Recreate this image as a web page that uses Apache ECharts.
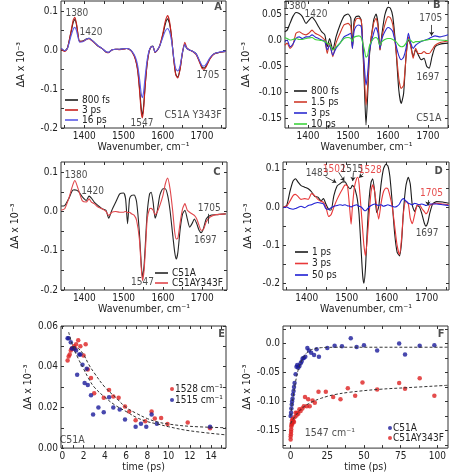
<!DOCTYPE html>
<html>
<head>
<meta charset="utf-8">
<script src="https://cdn.jsdelivr.net/npm/echarts@6/dist/echarts.min.js"></script>
<style>
  html, body {margin: 0; padding: 0; background: #fff;}
  #chart {width: 474px; height: 474px;}
</style>
</head>
<body>
<div id="chart"></div>
<script>
// ---- panel A: C51A Y343F, three delays ----
const wnA = [1341,1350,1357,1365,1372,1376,1380,1388,1396,1405,
             1412,1418,1425,1435,1445,1455,1462,1470,1480,1490,
             1500,1508,1515,1522,1530,1536,1541,1545,1548,1551,
             1555,1560,1565,1570,1575,1580,1585,1592,1600,1606,
             1612,1617,1622,1628,1633,1638,1644,1650,1656,1661,
             1668,1676,1685,1693,1700,1706,1712,1720,1730,1745,
             1760]
const a800fs = [0.004,-0.002,0.005,0.040,0.072,0.078,0.065,0.022,0.023,0.028,
                0.030,0.026,0.020,0.010,0.004,-0.005,-0.006,0.000,0.002,0.002,
                0.003,0.004,0.002,-0.005,-0.022,-0.050,-0.100,-0.150,-0.166,-0.145,
                -0.090,-0.035,-0.004,0.008,0.010,-0.006,-0.002,0.010,0.038,0.065,
                0.080,0.068,0.035,-0.025,-0.062,-0.070,-0.048,-0.008,0.014,0.004,
                0.000,-0.003,-0.010,-0.028,-0.044,-0.046,-0.038,-0.022,-0.010,-0.006,
                -0.004]
const a3ps = [0.002,-0.004,0.004,0.042,0.078,0.084,0.068,0.022,0.022,0.027,
              0.029,0.025,0.019,0.010,0.004,-0.005,-0.007,0.000,0.002,0.001,
              0.002,0.004,0.001,-0.006,-0.024,-0.054,-0.108,-0.160,-0.174,-0.152,
              -0.094,-0.036,-0.004,0.008,0.009,-0.006,-0.002,0.011,0.042,0.072,
              0.088,0.074,0.036,-0.026,-0.064,-0.072,-0.050,-0.006,0.020,0.006,
              0.000,-0.004,-0.012,-0.030,-0.047,-0.049,-0.040,-0.023,-0.011,-0.006,
              -0.004]
const a16ps = [0.004,-0.002,0.004,0.032,0.054,0.058,0.050,0.020,0.021,0.027,
               0.030,0.026,0.020,0.011,0.004,-0.004,-0.006,0.000,0.002,0.002,
               0.003,0.004,0.002,-0.004,-0.018,-0.040,-0.076,-0.112,-0.122,-0.108,
               -0.068,-0.026,-0.002,0.008,0.009,-0.005,-0.001,0.010,0.032,0.048,
               0.055,0.047,0.025,-0.020,-0.048,-0.054,-0.040,-0.006,0.014,0.004,
               0.000,-0.003,-0.010,-0.026,-0.040,-0.041,-0.034,-0.020,-0.010,-0.005,
               -0.003]

// ---- panel B: C51A, four delays ----
const wnB = [1342,1348,1355,1362,1370,1378,1386,1395,1402,1410,
             1418,1426,1434,1442,1448,1454,1462,1470,1480,1490,
             1500,1507,1511,1515,1520,1527,1533,1536,1541,1545,
             1549,1554,1564,1570,1575,1580,1585,1592,1600,1606,
             1612,1620,1627,1633,1639,1645,1651,1657,1663,1669,
             1676,1683,1690,1697,1703,1710,1718,1730,1750]
const b800fs = [0.016,0.019,0.032,0.045,0.053,0.051,0.045,0.032,0.038,0.044,
                0.037,0.026,0.016,0.010,-0.013,0.003,-0.019,0.006,0.029,0.046,
                0.050,0.042,-0.013,0.035,0.045,0.046,0.038,0.006,-0.090,-0.163,
                -0.109,-0.026,0.038,0.050,0.032,-0.019,0.013,0.048,0.063,0.061,
                0.045,-0.019,-0.096,-0.122,-0.103,-0.032,0.000,-0.010,-0.032,-0.019,
                -0.029,-0.038,-0.035,-0.051,-0.054,-0.032,-0.013,-0.008,-0.006]
const b1p5ps = [-0.010,-0.006,-0.016,-0.010,0.013,0.016,0.012,0.010,0.013,0.019,
                0.013,0.010,0.006,0.000,-0.026,-0.006,-0.032,-0.006,0.013,0.029,
                0.032,0.026,-0.016,0.026,0.040,0.042,0.038,0.006,-0.070,-0.125,
                -0.090,-0.020,0.032,0.042,0.026,-0.019,0.006,0.029,0.045,0.043,
                0.029,-0.019,-0.074,-0.093,-0.087,-0.035,0.006,-0.013,-0.035,-0.016,
                -0.026,-0.026,-0.022,-0.026,-0.026,-0.019,-0.010,-0.005,-0.002]
const b3ps = [-0.003,0.000,-0.013,-0.008,0.003,0.006,0.003,0.006,0.006,0.010,
              0.006,0.003,0.000,-0.003,-0.019,-0.010,-0.029,-0.016,-0.006,0.006,
              0.010,0.013,-0.016,0.016,0.026,0.029,0.026,0.000,-0.051,-0.087,
              -0.065,-0.020,0.013,0.024,0.013,-0.016,0.003,0.016,0.024,0.022,
              0.016,-0.010,-0.030,-0.038,-0.033,-0.016,0.013,-0.006,-0.016,-0.010,
              -0.006,-0.003,-0.001,0.001,0.003,0.006,0.008,0.006,0.010]
const b10ps = [0.005,0.003,0.000,0.001,0.003,0.001,0.001,0.003,0.004,0.005,
               0.001,0.000,-0.001,-0.003,-0.006,-0.008,-0.019,-0.013,-0.006,0.003,
               0.005,0.003,-0.003,0.005,0.007,0.008,0.005,-0.003,-0.019,-0.033,
               -0.030,-0.010,0.003,0.005,0.001,-0.010,-0.003,0.001,0.003,0.003,
               0.001,-0.003,-0.010,-0.013,-0.012,-0.006,0.001,-0.001,-0.005,-0.003,
               -0.003,-0.002,-0.001,0.000,0.001,0.001,0.001,0.000,-0.001]

// ---- panel C: C51A vs C51AY343F ----
const wnC = [1341,1350,1360,1370,1376,1385,1395,1405,1412,1418,
             1425,1435,1445,1455,1462,1470,1480,1490,1500,1505,
             1510,1515,1520,1527,1533,1540,1545,1548,1552,1556,
             1560,1566,1570,1575,1580,1585,1592,1600,1606,1612,
             1618,1625,1630,1634,1638,1644,1650,1656,1662,1668,
             1674,1680,1686,1692,1697,1703,1710,1720,1735,1760]
const cC51A = [0.014,0.015,0.032,0.054,0.055,0.051,0.037,0.028,0.039,0.034,
               0.024,0.015,0.007,0.003,-0.017,0.003,0.024,0.045,0.047,0.032,
               -0.031,0.032,0.041,0.042,0.024,-0.053,-0.138,-0.167,-0.138,-0.070,
               -0.002,0.045,0.049,0.024,-0.017,-0.002,0.041,0.058,0.058,0.041,
               0.003,-0.061,-0.104,-0.121,-0.104,-0.044,-0.006,0.003,-0.019,-0.040,
               -0.031,-0.019,-0.031,-0.048,-0.054,-0.044,-0.019,-0.010,-0.008,-0.006]
const cY343F = [0.003,0.007,0.032,0.066,0.079,0.055,0.027,0.024,0.032,0.024,
                0.020,0.011,0.007,0.000,-0.010,-0.002,0.000,-0.002,-0.002,0.000,
                -0.003,-0.002,-0.006,-0.010,-0.023,-0.070,-0.146,-0.176,-0.150,-0.087,
                -0.019,0.007,0.008,0.003,-0.008,-0.002,0.015,0.041,0.070,0.085,
                0.058,0.000,-0.053,-0.070,-0.068,-0.027,0.007,0.020,0.003,-0.002,
                -0.006,-0.010,-0.019,-0.036,-0.048,-0.046,-0.027,-0.014,-0.008,-0.006]

// ---- panel D: three delays ----
const wnD = [1342,1350,1358,1366,1372,1378,1386,1395,1404,1412,
             1420,1428,1436,1442,1448,1455,1461,1468,1476,1483,
             1490,1496,1502,1508,1511,1514,1519,1525,1528,1531,
             1536,1540,1543,1547,1551,1556,1561,1565,1570,1575,
             1580,1586,1592,1598,1603,1608,1614,1620,1626,1632,
             1637,1642,1648,1654,1659,1664,1670,1676,1682,1688,
             1694,1698,1703,1708,1715,1725,1740,1755]
const d1ps = [0.000,0.004,0.040,0.068,0.074,0.066,0.056,0.052,0.048,0.040,
              0.028,0.026,0.016,0.022,0.008,-0.006,-0.008,0.030,0.055,0.061,
              0.066,0.066,0.055,0.048,0.050,0.057,0.052,0.030,0.010,-0.020,
              -0.110,-0.180,-0.200,-0.160,-0.070,0.020,0.065,0.074,0.040,-0.015,
              0.000,0.060,0.100,0.112,0.108,0.080,0.010,-0.070,-0.118,-0.128,
              -0.095,-0.010,0.055,0.078,0.060,0.005,-0.012,0.004,0.000,-0.018,
              -0.042,-0.050,-0.040,-0.015,0.008,0.014,0.013,0.010]
const d3ps = [0.000,0.002,0.015,0.030,0.033,0.028,0.020,0.022,0.020,0.035,
              0.030,0.020,0.015,0.012,0.000,-0.025,-0.020,0.000,0.020,0.035,
              0.048,0.058,0.055,-0.010,-0.045,-0.005,0.050,0.075,0.078,0.060,
              -0.005,-0.060,-0.100,-0.128,-0.090,-0.020,0.040,0.058,0.040,0.000,
              -0.032,0.010,0.040,0.050,0.048,0.030,0.000,-0.050,-0.100,-0.125,
              -0.085,-0.015,0.015,0.008,-0.030,-0.044,-0.020,0.004,0.006,-0.004,
              -0.012,-0.018,-0.012,0.004,0.008,0.010,0.008,0.006]
const d50ps = [-0.002,0.000,-0.004,-0.006,-0.004,-0.001,0.002,-0.002,0.004,0.006,
               0.010,0.012,0.010,0.008,-0.004,-0.006,-0.002,0.002,0.004,0.006,
               0.004,0.006,0.003,0.002,0.000,0.002,0.004,0.006,0.004,0.002,
               0.000,-0.004,-0.008,-0.010,-0.006,0.000,0.004,0.006,0.008,0.006,
               0.004,0.006,0.002,0.004,0.006,0.004,0.002,0.000,0.002,0.008,
               0.018,0.022,0.016,0.010,0.008,0.006,0.010,0.008,0.006,0.008,
               0.006,0.004,0.006,0.008,0.008,0.008,0.006,0.004]

// ---- panel E: kinetics of C51A at 1528 / 1515 ----
const e1528T = [0.5,0.6,0.7,0.8,0.9,1.0,1.1,1.2,1.3,1.5,
                1.7,2.0,2.2,2.4,2.7,3.0,3.9,4.4,4.8,5.3,
                5.9,6.3,6.9,7.8,8.4,8.7,9.3,9.9,11.8,13.9]
const e1528V = [0.043,0.045,0.046,0.048,0.049,0.049,0.050,0.049,0.051,0.053,
                0.050,0.0455,0.051,0.0386,0.0345,0.027,0.0247,0.0286,0.0254,0.0247,
                0.0204,0.018,0.0137,0.0132,0.018,0.0145,0.0148,0.0118,0.0126,0.0097]
const e1515T = [0.5,0.6,0.8,0.9,1.1,1.3,1.4,1.6,1.7,1.9,
                2.1,2.3,2.4,2.7,2.9,3.4,3.9,4.4,4.8,5.4,
                5.9,6.9,7.4,7.9,8.4,8.9,13.9]
const e1515V = [0.054,0.054,0.052,0.049,0.049,0.048,0.036,0.046,0.046,0.041,
                0.032,0.039,0.031,0.026,0.0165,0.020,0.0176,0.025,0.020,0.019,
                0.014,0.0105,0.012,0.0105,0.0165,0.012,0.0105]
const eFit1528T = [1.0,1.5,2,2.5,3,4,5,6,7,8,9,10,12,15.4]
const eFit1528V = [0.050,0.049,0.046,0.041,0.037,0.030,0.025,0.020,0.017,0.0145,0.0128,0.0118,0.0107,0.0100]
const eFit1515T = [0.6,1,1.5,2,2.5,3,4,5,6,7,8,9,10,12,15.4]
const eFit1515V = [0.057,0.050,0.044,0.039,0.034,0.030,0.025,0.021,0.018,0.015,0.013,0.0118,0.0105,0.0085,0.0065]

// ---- panel F: kinetics at 1547 ----
const fC51AT = [0,0.3,0.5,0.8,1,1.3,1.6,2,2.3,2.7,
                3.4,4,4.5,5.2,6,6.8,7.5,8.2,9,10,
                11.4,12.5,14,16,17.7,19.3,25,30,35,41,
                45,50,59,74,78,88,98]
const fC51AV = [-0.125,-0.119,-0.112,-0.105,-0.100,-0.095,-0.088,-0.082,-0.075,-0.068,
                -0.053,-0.040,-0.037,-0.042,-0.039,-0.034,-0.031,-0.026,-0.025,-0.023,
                -0.008,-0.012,-0.016,-0.020,-0.010,-0.023,-0.008,-0.004,-0.005,0.009,
                -0.006,-0.003,-0.012,0.000,-0.019,-0.004,-0.003]
const fY343FT = [0,0,0.2,0.3,0.4,0.5,0.6,0.8,1,1.2,
                 1.5,1.8,2.3,2.7,3.4,4,4.5,5.2,6,6.8,
                 8,9,9.8,11,12,13,15,16.5,19,24,
                 29,34,39,44,49,59,74,78,88,98]
const fY343FV = [-0.165,-0.160,-0.156,-0.152,-0.148,-0.143,-0.140,-0.137,-0.132,-0.138,
                 -0.130,-0.134,-0.135,-0.127,-0.119,-0.124,-0.119,-0.121,-0.113,-0.116,
                 -0.112,-0.108,-0.092,-0.108,-0.096,-0.108,-0.098,-0.102,-0.083,-0.083,
                 -0.092,-0.096,-0.077,-0.090,-0.067,-0.079,-0.068,-0.078,-0.060,-0.090]
const fFitT = [0,1,2,3,4,5,6,8,10,12,15,20,25,30,40,60,80,107]
const fFitC51AV = [-0.125,-0.105,-0.087,-0.071,-0.058,-0.047,-0.039,-0.027,-0.019,-0.014,-0.010,-0.0075,-0.0068,-0.0066,-0.0065,-0.0065,-0.0065,-0.0065]
const fFitY343FV = [-0.138,-0.133,-0.129,-0.125,-0.122,-0.119,-0.116,-0.111,-0.107,-0.104,-0.100,-0.095,-0.091,-0.088,-0.084,-0.079,-0.076,-0.072]

// ---- tick marks and labels ----
const wnTicks = [1350,1400,1450,1500,1550,1600,1650,1700,1750]
const wnLabelAt = [1400,1500,1600,1700]
const wnLabels = ['1400','1500','1600','1700']
const yTicksAC = [-0.2,-0.15,-0.1,-0.05,0,0.05,0.1]
const yLabelAtAC = [-0.2,-0.1,0,0.1]
const yLabelsAC = ['-0.2','-0.1','0.0','0.1']
const yTicksB = [-0.15,-0.125,-0.1,-0.075,-0.05,-0.025,0,0.025,0.05,0.075]
const yLabelAtB = [-0.15,-0.1,-0.05,0,0.05]
const yLabelsB = ['-0.15','-0.10','-0.05','0.0','0.05']
const yTicksD = [-0.2,-0.15,-0.1,-0.05,0,0.05,0.1]
const tTicksE = [0,1,2,3,4,5,6,7,8,9,10,11,12,13,14,15]
const tLabelAtE = [0,2,4,6,8,10,12,14]
const tLabelsE = ['0','2','4','6','8','10','12','14']
const yTicksE = [0,0.01,0.02,0.03,0.04,0.05,0.06]
const yLabelAtE = [0,0.02,0.04,0.06]
const yLabelsE = ['0.00','0.02','0.04','0.06']
const tTicksF = [0,12.5,25,37.5,50,62.5,75,87.5,100]
const tLabelAtF = [0,25,50,75,100]
const tLabelsF = ['0','25','50','75','100']
const yTicksF = [-0.175,-0.15,-0.125,-0.1,-0.075,-0.05,-0.025,0,0.025]
const yLabelAtF = [-0.15,-0.1,-0.05,0]
const yLabelsF = ['-0.15','-0.10','-0.05','0.0']

const FONT = '"Liberation Sans Narrow", "DejaVu Sans Condensed", "Liberation Sans", Arial, sans-serif'
const INK = '#222'
const YNAME = 'ΔA x 10⁻³'
const XNAME = 'Wavenumber, cm⁻¹'

// panel frames in px
const grids = [
  {left: 61, top: 1, width: 165, height: 127},
  {left: 285, top: 1, width: 163, height: 127},
  {left: 61, top: 162, width: 166, height: 128},
  {left: 283, top: 162, width: 166, height: 128},
  {left: 61, top: 326, width: 165, height: 128},
  {left: 283, top: 326, width: 165, height: 128},
].map(g => ({...g, show: true, borderColor: '#333', borderWidth: 1, backgroundColor: 'transparent'}))

const zip = (xs, ys) => xs.map((x, i) => [x, ys[i]])

const pick = (at, labels) => v => {
  const i = at.findIndex(t => Math.abs(t - v) < 1e-9)
  return i < 0 ? '' : labels[i]
}

// bottom/left axis with labels + top/right twin with ticks only
function axisPair(dim, g, o) {
  const base = {
    type: 'value', gridIndex: g, min: o.min, max: o.max,
    splitLine: {show: false},
    axisLine: {show: false, onZero: false},
    axisTick: {show: true, inside: true, length: 3, customValues: o.ticks, lineStyle: {color: '#333'}},
  }
  const main = {...base,
    position: dim == 'x' ? 'bottom' : 'left',
    axisLabel: {customValues: o.at, formatter: pick(o.at, o.labels), color: INK, fontFamily: FONT, fontSize: 10, margin: 3},
    name: o.name, nameLocation: 'middle', nameGap: o.gap, nameRotate: dim == 'y' ? 90 : 0,
    nameTextStyle: {color: INK, fontFamily: FONT, fontSize: 10.5},
  }
  const twin = {...base, position: dim == 'x' ? 'top' : 'right', axisLabel: {show: false}}
  return [main, twin]
}

const xAxes = [
  axisPair('x', 0, {min: 1340.6, max: 1761, ticks: wnTicks, at: wnLabelAt, labels: wnLabels, name: XNAME, gap: 12}),
  axisPair('x', 1, {min: 1342.5, max: 1750, ticks: wnTicks, at: wnLabelAt, labels: wnLabels, name: XNAME, gap: 12}),
  axisPair('x', 2, {min: 1340.6, max: 1763, ticks: wnTicks, at: wnLabelAt, labels: wnLabels, name: XNAME, gap: 12}),
  axisPair('x', 3, {min: 1340.8, max: 1755.8, ticks: wnTicks, at: wnLabelAt, labels: wnLabels, name: XNAME, gap: 12}),
  axisPair('x', 4, {min: -0.12, max: 15.4, ticks: tTicksE, at: tLabelAtE, labels: tLabelsE, name: 'time (ps)', gap: 9}),
  axisPair('x', 5, {min: -5.2, max: 107.3, ticks: tTicksF, at: tLabelAtF, labels: tLabelsF, name: 'time (ps)', gap: 9}),
].flat()

const yAxes = [
  axisPair('y', 0, {min: -0.2, max: 0.1256, ticks: yTicksAC, at: yLabelAtAC, labels: yLabelsAC, name: YNAME, gap: 34}),
  axisPair('y', 1, {min: -0.169, max: 0.075, ticks: yTicksB, at: yLabelAtB, labels: yLabelsB, name: YNAME, gap: 33}),
  axisPair('y', 2, {min: -0.2, max: 0.126, ticks: yTicksAC, at: yLabelAtAC, labels: yLabelsAC, name: YNAME, gap: 40}),
  axisPair('y', 3, {min: -0.2176, max: 0.118, ticks: yTicksD, at: yLabelAtAC, labels: yLabelsAC, name: YNAME, gap: 29}),
  axisPair('y', 4, {min: 0, max: 0.06, ticks: yTicksE, at: yLabelAtE, labels: yLabelsE, name: YNAME, gap: 27}),
  axisPair('y', 5, {min: -0.18, max: 0.03, ticks: yTicksF, at: yLabelAtF, labels: yLabelsF, name: YNAME, gap: 26}),
].flat()

function spectrum(g, key, label, xs, ys, color) {
  return {
    type: 'line', name: key + '|' + label, xAxisIndex: 2 * g, yAxisIndex: 2 * g,
    data: zip(xs, ys), symbol: 'none', showSymbol: false, smooth: 0.2,
    lineStyle: {color: color, width: 1.1}, itemStyle: {color: color},
  }
}

function dots(g, key, label, ts, vs, color) {
  return {
    type: 'scatter', name: key + '|' + label, xAxisIndex: 2 * g, yAxisIndex: 2 * g,
    data: zip(ts, vs), symbol: 'circle', symbolSize: 4.5, itemStyle: {color: color}, z: 3,
  }
}

function fit(g, ts, vs) {
  return {
    type: 'line', xAxisIndex: 2 * g, yAxisIndex: 2 * g, data: zip(ts, vs),
    symbol: 'none', smooth: 0.4, silent: true, z: 4,
    lineStyle: {color: '#333', width: 1, type: [3, 2]},
  }
}

// text labels (in data coords) and little arrows for one panel
function notes(g, items, arrows) {
  return {
    type: 'scatter', xAxisIndex: 2 * g, yAxisIndex: 2 * g, silent: true, z: 10,
    symbol: 'circle', symbolSize: 1, itemStyle: {color: 'rgba(0,0,0,0)'},
    data: items.map(n => ({
      value: [n[0], n[1]],
      label: {show: true, position: 'inside', formatter: n[2], color: n[3] || INK,
              fontFamily: FONT, fontSize: n[4] || 10, fontWeight: n[5] || 'normal'},
    })),
    markLine: arrows ? {
      silent: true, symbol: ['none', 'arrow'], symbolSize: 4, animation: false,
      label: {show: false}, lineStyle: {color: INK, width: 0.8, type: 'solid'},
      data: arrows.map(a => [{coord: [a[0], a[1]], symbol: 'none'}, {coord: [a[2], a[3]], symbol: a[4] === false ? 'none' : 'arrow'}]),
    } : undefined,
  }
}

function legendBox(names, left, top, o) {
  return Object.assign({
    data: names, orient: 'vertical', left: left, top: top, padding: 0,
    itemGap: 0, itemWidth: 13, itemHeight: 1.6, icon: 'rect', selectedMode: false,
    formatter: n => n.split('|')[1],
    textStyle: {color: INK, fontFamily: FONT, fontSize: 10, lineHeight: 8.5, padding: [0, 0, 0, -1]},
  }, o || {})
}

const dotLegend = {icon: 'circle', itemWidth: 4, itemHeight: 4}

const series = [
  spectrum(0, 'A', '800 fs', wnA, a800fs, '#1c1c1c'),
  spectrum(0, 'A', '3 ps', wnA, a3ps, '#c8201e'),
  spectrum(0, 'A', '16 ps', wnA, a16ps, '#5a5ae6'),
  notes(0, [[1381, 0.095, '1380'], [1417, 0.044, '1420'], [1547, -0.187, '1547'], [1715, -0.064, '1705'],
            [1741, 0.110, 'A', INK, 11, 'bold'], [1677, -0.167, 'C51A Y343F', INK, 10.5]]),

  spectrum(1, 'B', '800 fs', wnB, b800fs, '#1c1c1c'),
  spectrum(1, 'B', '1.5 ps', wnB, b1p5ps, '#d03a2a'),
  spectrum(1, 'B', '3 ps', wnB, b3ps, '#2b2bd0'),
  spectrum(1, 'B', '10 ps', wnB, b10ps, '#3ed23e'),
  notes(1, [[1367, 0.065, '1380'], [1420, 0.050, '1420'], [1722, 0.067, 'B', INK, 11, 'bold'],
            [1707, 0.042, '1705'], [1700, -0.071, '1697'], [1702, -0.150, 'C51A', INK, 10.5]],
        [[1709, 0.029, 1709, 0.008]]),

  spectrum(2, 'C', 'C51A', wnC, cC51A, '#262626'),
  spectrum(2, 'C', 'C51AY343F', wnC, cY343F, '#e0474c'),
  notes(2, [[1379, 0.091, '1380'], [1421, 0.052, '1420'], [1737, 0.101, 'C', INK, 11, 'bold'],
            [1718, 0.009, '1705'], [1708, -0.074, '1697'], [1548, -0.181, '1547']],
        [[1716, -0.006, 1716, -0.031, false]]),

  spectrum(3, 'D', '1 ps', wnD, d1ps, '#1c1c1c'),
  spectrum(3, 'D', '3 ps', wnD, d3ps, '#e8393a'),
  spectrum(3, 'D', '50 ps', wnD, d50ps, '#1f1fd4'),
  notes(3, [[1426, 0.088, '1483'], [1469, 0.0996, '1502', '#e02020'], [1513, 0.0996, '1515'],
            [1559, 0.097, '1528', '#e02020'], [1730, 0.094, 'D', INK, 11, 'bold'],
            [1712, 0.036, '1705', '#e02020'], [1701, -0.069, '1697']],
        [[1447, 0.079, 1474, 0.064], [1480, 0.091, 1494, 0.068], [1517, 0.091, 1515, 0.068],
         [1542, 0.088, 1531, 0.077], [1703, 0.018, 1703, 0.004]]),

  fit(4, eFit1528T, eFit1528V),
  fit(4, eFit1515T, eFit1515V),
  dots(4, 'E', '1528 cm⁻¹', e1528T, e1528V, '#dd2020'),
  dots(4, 'E', '1515 cm⁻¹', e1515T, e1515V, '#1a1a9a'),
  notes(4, [[15.0, 0.0562, 'E', INK, 11, 'bold'], [0.94, 0.004, 'C51A', INK, 10.5]]),

  fit(5, fFitT, fFitC51AV),
  fit(5, fFitT, fFitY343FV),
  dots(5, 'F', 'C51A', fC51AT, fC51AV, '#1a1a9a'),
  dots(5, 'F', 'C51AY343F', fY343FT, fY343FV, '#dd2020'),
  notes(5, [[102.7, 0.0152, 'F', INK, 11, 'bold'], [26.8, -0.154, '1547 cm⁻¹', INK, 10.5]]),
]

const legends = [
  legendBox(['A|800 fs', 'A|3 ps', 'A|16 ps'], 65, 95),
  legendBox(['B|800 fs', 'B|1.5 ps', 'B|3 ps', 'B|10 ps'], 294, 86, {itemGap: 1}),
  legendBox(['C|C51A', 'C|C51AY343F'], 155, 268),
  legendBox(['D|1 ps', 'D|3 ps', 'D|50 ps'], 295, 247, {itemGap: 1.5}),
  legendBox(['E|1528 cm⁻¹', 'E|1515 cm⁻¹'], 170, 384, {...dotLegend, itemGap: 1, textStyle: {color: INK, fontFamily: FONT, fontSize: 10, lineHeight: 10, padding: [0, 0, 0, -4]}}),
  legendBox(['F|C51A', 'F|C51AY343F'], 388, 423, {...dotLegend, itemGap: 0, textStyle: {color: INK, fontFamily: FONT, fontSize: 10, lineHeight: 9, padding: [0, 0, 0, -4]}}),
]

const chart = echarts.init(document.getElementById('chart'), null, {renderer: 'canvas'})
chart.setOption({
  animation: false,
  backgroundColor: '#fff',
  textStyle: {fontFamily: FONT},
  grid: grids,
  xAxis: xAxes,
  yAxis: yAxes,
  legend: legends,
  series: series,
})
</script>
</body>
</html>
